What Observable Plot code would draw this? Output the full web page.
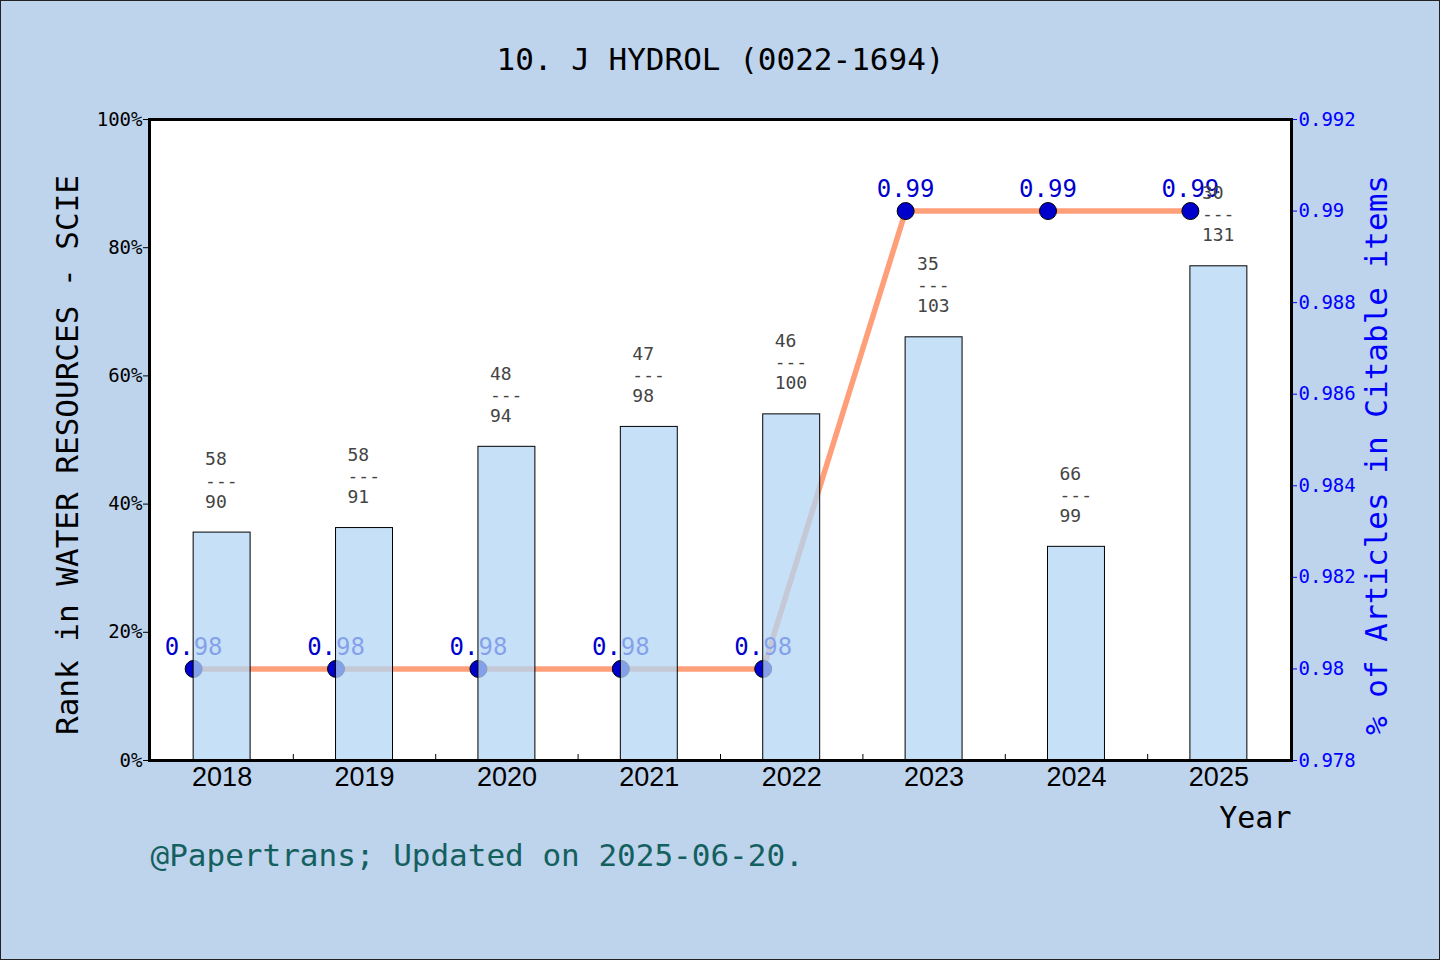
<!DOCTYPE html>
<html>
<head>
<meta charset="utf-8">
<script src="https://cdn.jsdelivr.net/npm/d3@7"></script>
<script src="https://cdn.jsdelivr.net/npm/@observablehq/plot@0.6"></script>
<style>
  html, body { margin: 0; padding: 0; background: #bed3ec; }
  #chart svg { display: block; outline: 1px solid #222; outline-offset: -1px; }
</style>
</head>
<body>
<div id="chart"></div>
<script>
// ---- data ----
const years = ["2018", "2019", "2020", "2021", "2022", "2023", "2024", "2025"];
const ranks = [58, 58, 48, 47, 46, 35, 66, 30];
const totals = [90, 91, 94, 98, 100, 103, 99, 131];
const citable = [0.98, 0.98, 0.98, 0.98, 0.98, 0.99, 0.99, 0.99];
const leftTicks = [0, 20, 40, 60, 80, 100];
const rightTicks = [0.978, 0.98, 0.982, 0.984, 0.986, 0.988, 0.99, 0.992];
const rightMin = 0.978, rightMax = 0.992;

const title = "10. J HYDROL (0022-1694)";
const leftLabel = "Rank in WATER RESOURCES - SCIE";
const rightLabel = "% of Articles in Citable items";
const xLabel = "Year";
const caption = "@Papertrans; Updated on 2025-06-20.";

// map right-axis values to the left (percent) scale
const toLeft = v => (v - rightMin) / (rightMax - rightMin) * 100;
const fromLeft = d => rightMin + d / 100 * (rightMax - rightMin);

const data = years.map((year, i) => ({
  year,
  rank: ranks[i],
  total: totals[i],
  pct: (1 - ranks[i] / totals[i]) * 100,
  citable: citable[i],
  citableY: toLeft(citable[i])
}));

const mono = "DejaVu Sans Mono";
const W = 1440, H = 960;
const mL = 149, mR = 149, mT = 119, mB = 200;
const pIn = 0.6, pOut = 0.31;
const step = (W - mL - mR) / (years.length - pIn + 2 * pOut);
const bw = step * (1 - pIn);

const barFill = "rgb(178,214,244)";
const blue = "#0000cd";

const chart = Plot.plot({
  width: W,
  height: H,
  marginLeft: mL,
  marginRight: mR,
  marginTop: mT,
  marginBottom: mB,
  style: { background: "#bed3ec", fontFamily: mono, overflow: "visible" },
  x: { type: "band", domain: years, paddingInner: pIn, paddingOuter: pOut, round: false },
  y: { domain: [0, 100] },
  marks: [
    Plot.frame({ fill: "white", stroke: null }),
    // line series (right axis)
    Plot.line(data, { x: "year", y: "citableY", dx: -bw / 2, stroke: "#ff9f7a", strokeWidth: 5.5 }),
    Plot.dot(data, { x: "year", y: "citableY", dx: -bw / 2, r: 8.5, fill: blue, stroke: "black", strokeWidth: 1 }),
    Plot.text(data, {
      x: "year", y: "citableY", dx: -bw / 2, dy: -14,
      text: d => String(d.citable.toFixed(2)),
      lineAnchor: "bottom", fill: blue, fontSize: 24, fontFamily: mono
    }),
    // bars (left axis)
    Plot.barY(data, { x: "year", y: "pct", fill: barFill, fillOpacity: 0.75, stroke: "black", strokeWidth: 1 }),
    Plot.text(data, {
      x: "year", y: "pct", dx: -17, dy: -25,
      text: d => `${d.rank}\n---\n${d.total}`,
      textAnchor: "start", lineAnchor: "bottom", lineHeight: 1.17,
      fill: "#444", fontSize: 18, fontFamily: mono
    }),
    // minor ticks at band boundaries
    Plot.ruleX(years.slice(0, -1), { x: d => d, dx: step / 2, insetTop: (H - mT - mB) - 6, stroke: "black", strokeWidth: 1 }),
    // axes
    Plot.axisX({ tickSize: 0, tickPadding: 6, fontSize: 27, fontFamily: "Liberation Sans", label: null, color: "black" }),
    Plot.axisY({ ticks: leftTicks, tickFormat: d => d + "%", tickSize: 6, tickPadding: 1, fontSize: 19, fontFamily: mono, label: null, color: "black" }),
    Plot.axisY({
      anchor: "right", ticks: rightTicks.map(toLeft),
      tickFormat: d => String(+fromLeft(d).toFixed(3)),
      tickSize: 5, tickPadding: 2, fontSize: 19, fontFamily: mono, label: null, color: "blue"
    }),
    Plot.frame({ stroke: "black", strokeWidth: 3 }),
    // titles & labels
    Plot.text([title], { frameAnchor: "top", textAnchor: "middle", lineAnchor: "middle", dy: -59, fontSize: 31, fontFamily: mono, fill: "black" }),
    Plot.text([leftLabel], { frameAnchor: "left", textAnchor: "middle", lineAnchor: "middle", rotate: -90, dx: -81, dy: 15, fontSize: 31, fontFamily: mono, fill: "black" }),
    Plot.text([rightLabel], { frameAnchor: "right", textAnchor: "middle", lineAnchor: "middle", rotate: -90, dx: 86, dy: 15, fontSize: 31, fontFamily: mono, fill: "blue" }),
    Plot.text([xLabel], { frameAnchor: "bottom-right", textAnchor: "end", lineAnchor: "middle", dy: 58, fontSize: 30, fontFamily: mono, fill: "black" }),
    Plot.text([caption], { frameAnchor: "bottom-left", textAnchor: "start", lineAnchor: "middle", dx: 1, dy: 96, fontSize: 31, fontFamily: mono, fill: "#14605f" })
  ]
});

document.getElementById("chart").appendChild(chart);
</script>
</body>
</html>
